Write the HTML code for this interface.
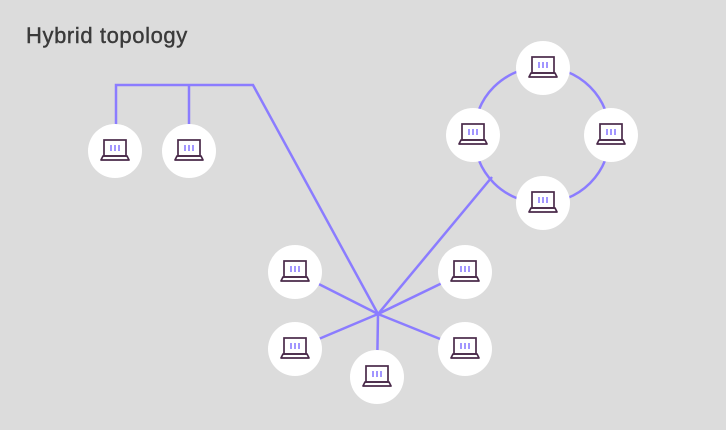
<!DOCTYPE html>
<html><head><style>
html,body{margin:0;padding:0;background:#dcdcdc;width:726px;height:430px;overflow:hidden}
</style></head><body>
<svg width="726" height="430" xmlns="http://www.w3.org/2000/svg">
<defs>
<g id="lap">
<circle r="27" fill="#fff"/>
<rect x="-11" y="-11" width="22" height="16" fill="none" stroke="#4a2a4a" stroke-width="1.7"/>
<path d="M-14 9 L-12 5 L12 5 L14 9 Z" fill="none" stroke="#4a2a4a" stroke-width="1.7" stroke-linejoin="round"/>
<g stroke="#8b7cff" stroke-width="1.6"><line x1="-4" y1="-6" x2="-4" y2="0"/><line x1="0" y1="-6" x2="0" y2="0"/><line x1="4" y1="-6" x2="4" y2="0"/></g>
</g>
</defs>
<text x="26" y="43" font-family="Liberation Sans, sans-serif" font-size="22" letter-spacing="0.6" fill="#3a3a3a" stroke="#3a3a3a" stroke-width="0.4">Hybrid topology</text>
<g stroke="#8b7cff" stroke-width="2.5" fill="none">
<polyline points="116,125 116,85 253,85 378,314"/>
<line x1="189" y1="85" x2="189" y2="125"/>
<circle cx="542" cy="135" r="68"/>
<line x1="492" y1="177" x2="378" y2="314"/>
<line x1="378" y1="314" x2="295" y2="272"/>
<line x1="378" y1="314" x2="465" y2="272"/>
<line x1="378" y1="314" x2="295" y2="349"/>
<line x1="378" y1="314" x2="465" y2="349"/>
<line x1="378" y1="314" x2="377" y2="377"/>
</g>
<use href="#lap" x="115" y="151"/>
<use href="#lap" x="189" y="151"/>
<use href="#lap" x="543" y="68"/>
<use href="#lap" x="473" y="135"/>
<use href="#lap" x="611" y="135"/>
<use href="#lap" x="543" y="203"/>
<use href="#lap" x="295" y="272"/>
<use href="#lap" x="465" y="272"/>
<use href="#lap" x="295" y="349"/>
<use href="#lap" x="465" y="349"/>
<use href="#lap" x="377" y="377"/>
</svg>
</body></html>
